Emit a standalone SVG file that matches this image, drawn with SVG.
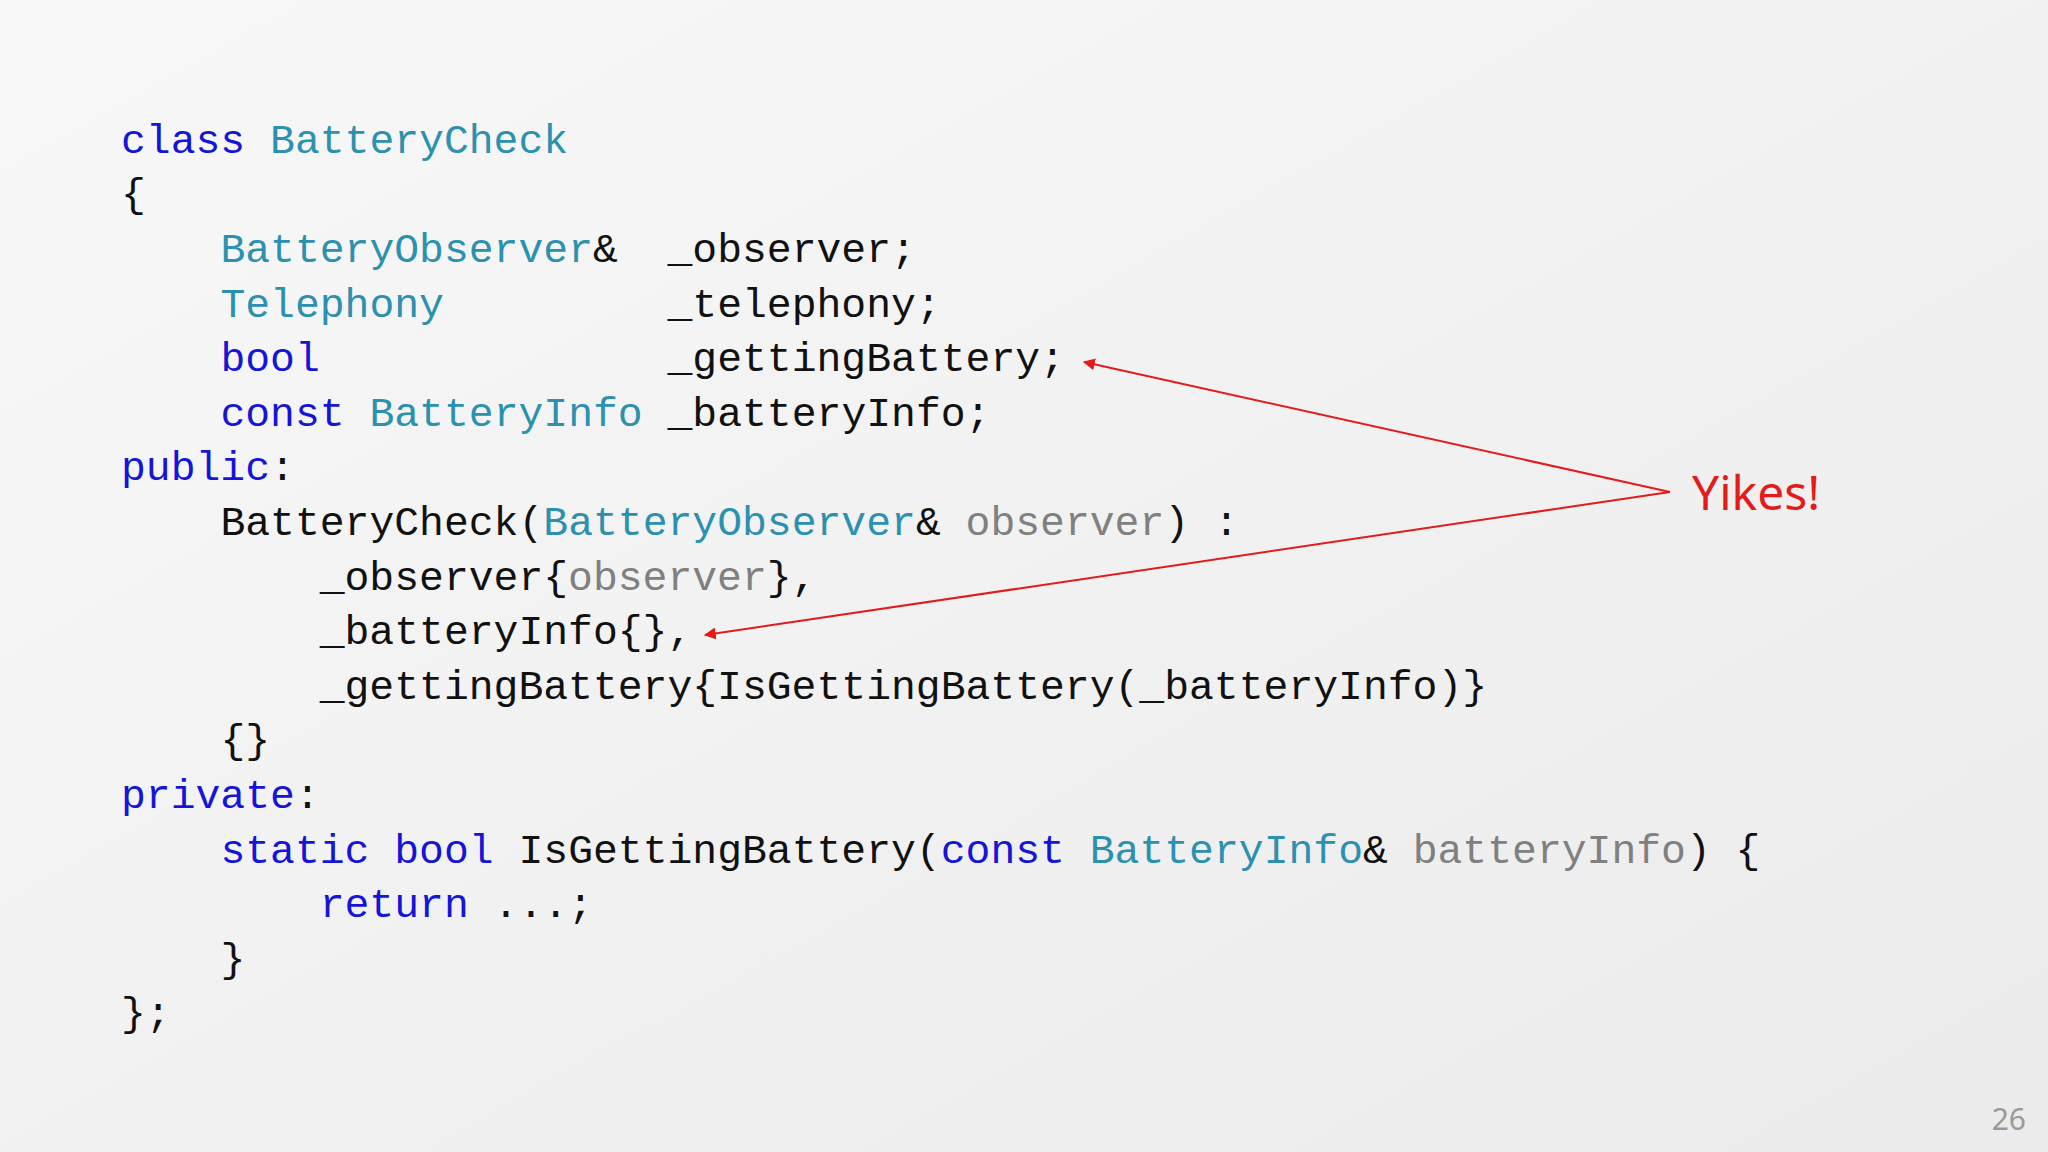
<svg xmlns="http://www.w3.org/2000/svg" width="2048" height="1152" viewBox="0 0 2048 1152">
<defs>
<linearGradient id="bg" x1="0" y1="0" x2="1" y2="1"><stop offset="0" stop-color="#f8f8f8"/><stop offset="1" stop-color="#ebebeb"/></linearGradient>
<marker id="ah" viewBox="0 0 10 10" refX="9" refY="5" markerWidth="6" markerHeight="6" orient="auto"><path d="M0,0L10,5L0,10z" fill="#e41b1b"/></marker>
<style>
.c{font-family:"Liberation Mono",monospace;font-size:41.4px;fill:#111}
.k{fill:#1515d8}.t{fill:#2b91af}.p{fill:#808080}
</style>
</defs>
<rect width="2048" height="1152" fill="url(#bg)"/>
<g id="code" class="c">
<text x="121" y="153"><tspan class="k">class</tspan> <tspan class="t">BatteryCheck</tspan></text>
<text x="121" y="207">{</text>
<text x="220.4" y="262"><tspan class="t">BatteryObserver</tspan>&amp;<tspan x="667.5">_observer;</tspan></text>
<text x="220.4" y="317"><tspan class="t">Telephony</tspan><tspan x="667.5">_telephony;</tspan></text>
<text x="220.4" y="371"><tspan class="k">bool</tspan><tspan x="667.5">_gettingBattery;</tspan></text>
<text x="220.4" y="426"><tspan class="k">const</tspan> <tspan class="t">BatteryInfo</tspan> _batteryInfo;</text>
<text x="121" y="480"><tspan class="k">public</tspan>:</text>
<text x="220.4" y="535">BatteryCheck(<tspan class="t">BatteryObserver</tspan>&amp; <tspan class="p">observer</tspan>) :</text>
<text x="319.7" y="590">_observer{<tspan class="p">observer</tspan>},</text>
<text x="319.7" y="644">_batteryInfo{},</text>
<text x="319.7" y="699">_gettingBattery{IsGettingBattery(_batteryInfo)}</text>
<text x="220.4" y="753">{}</text>
<text x="121" y="808"><tspan class="k">private</tspan>:</text>
<text x="220.4" y="863"><tspan class="k">static</tspan> <tspan class="k">bool</tspan> IsGettingBattery(<tspan class="k">const</tspan> <tspan class="t">BatteryInfo</tspan>&amp; <tspan class="p">batteryInfo</tspan>) {</text>
<text x="319.7" y="917"><tspan class="k">return</tspan> ...;</text>
<text x="220.4" y="972">}</text>
<text x="121" y="1026">};</text>
</g>
<g id="connectors" stroke="#e41b1b" stroke-width="2" fill="none">
<line x1="1670" y1="492" x2="1084" y2="362" marker-end="url(#ah)"/>
<line x1="1670" y1="492" x2="705" y2="635" marker-end="url(#ah)"/>
</g>
<g id="yikes"><text x="1692" y="510" font-family="Noto Sans,sans-serif" font-size="48" fill="#e41b1b">Yikes!</text></g>
<text x="2026" y="1130" text-anchor="end" font-family="Noto Sans,sans-serif" font-size="30" fill="#999">26</text>
</svg>
